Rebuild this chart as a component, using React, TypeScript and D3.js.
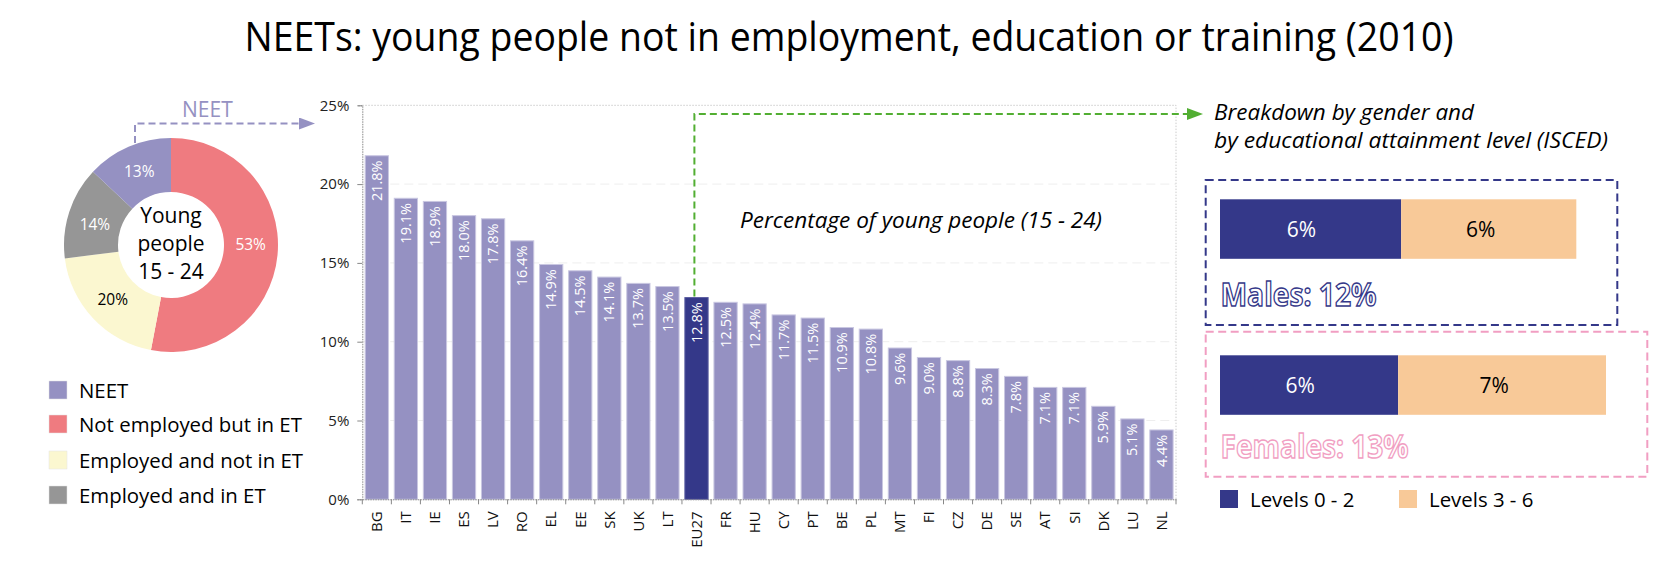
import { useEffect, useRef } from 'react';
import * as d3 from 'd3';

const FONT = '"Open Sans", sans-serif';

const countries = ['BG', 'IT', 'IE', 'ES', 'LV', 'RO', 'EL', 'EE', 'SK', 'UK', 'LT', 'EU27', 'FR', 'HU', 'CY', 'PT', 'BE', 'PL', 'MT', 'FI', 'CZ', 'DE', 'SE', 'AT', 'SI', 'DK', 'LU', 'NL'];
const neetValues = [21.8, 19.1, 18.9, 18.0, 17.8, 16.4, 14.9, 14.5, 14.1, 13.7, 13.5, 12.8, 12.5, 12.4, 11.7, 11.5, 10.9, 10.8, 9.6, 9.0, 8.8, 8.3, 7.8, 7.1, 7.1, 5.9, 5.1, 4.4];
const yTicks = [0, 5, 10, 15, 20, 25];

const pieLabels = ['Not employed but in ET', 'Employed and not in ET', 'Employed and in ET', 'NEET'];
const pieValues = [53, 20, 14, 13];
const pieColors = ['#ef7b80', '#fbf7d0', '#969696', '#9591c2'];
const pieTextColors = ['#fff', '#000', '#fff', '#fff'];
const legendOrder = ['NEET', 'Not employed but in ET', 'Employed and not in ET', 'Employed and in ET'];

// widths of the stacked bars, the printed labels are rounded
const genders = ['Males', 'Females'];
const lowLevels = [6.1, 6.0];
const highLevels = [5.9, 7.0];
const lowLabels = ['6%', '6%'];
const highLabels = ['6%', '7%'];
const genderTotals = ['Males: 12%', 'Females: 13%'];
const levelLabels = ['Levels 0 - 2', 'Levels 3 - 6'];

const PURPLE = '#9591c2';
const NAVY = '#343889';
const PEACH = '#f8c998';
const PINK = '#f19ec2';
const GREEN = '#52ae32';

export default function App() {
  const svgRef = useRef<SVGSVGElement>(null);

  useEffect(() => {
    if (!svgRef.current) return;
    const svg = d3.select(svgRef.current);
    svg.selectAll('*').remove();

    const label = (x: number, y: number, s: string, size: number, fill = '#000', anchor = 'start') =>
      svg.append('text')
        .attr('x', x)
        .attr('y', y)
        .attr('font-size', size)
        .attr('fill', fill)
        .attr('text-anchor', anchor)
        .text(s);

    const defs = svg.append('defs');
    const marker = (id: string, color: string) =>
      defs.append('marker')
        .attr('id', id)
        .attr('viewBox', '0 0 16 12')
        .attr('refX', 0)
        .attr('refY', 6)
        .attr('markerUnits', 'userSpaceOnUse')
        .attr('markerWidth', 16)
        .attr('markerHeight', 12)
        .attr('orient', 'auto')
        .append('path')
        .attr('d', 'M0,0L16,6L0,12Z')
        .attr('fill', color);
    marker('arrow-purple', PURPLE);
    marker('arrow-green', GREEN);

    // Title
    label(244.5, 51, 'NEETs: young people not in employment, education or training (2010)', 40)
      .attr('textLength', 1209)
      .attr('lengthAdjust', 'spacingAndGlyphs');

    // Donut
    const cx = 171;
    const cy = 245;
    const pie = d3.pie<number>().sort(null)(pieValues);
    const arc = d3.arc<d3.PieArcDatum<number>>().innerRadius(53).outerRadius(107);
    const donut = svg.append('g').attr('transform', `translate(${cx},${cy})`);
    donut.selectAll('path')
      .data(pie)
      .join('path')
      .attr('d', arc)
      .attr('fill', (_, i) => pieColors[i]);
    donut.selectAll('text')
      .data(pie)
      .join('text')
      .attr('transform', d => `translate(${arc.centroid(d)})`)
      .attr('dy', (_, i) => (i === 0 ? '-0.15em' : i === 2 ? '0.6em' : '0.35em'))
      .attr('text-anchor', 'middle')
      .attr('font-size', 15.5)
      .attr('fill', (_, i) => pieTextColors[i])
      .text(d => `${d.data}%`);
    ['Young', 'people', '15 - 24'].forEach((s, i) => {
      label(cx, 223 + i * 28, s, 21, '#000', 'middle');
    });

    // NEET arrow
    label(182, 117, 'NEET', 21, PURPLE);
    svg.append('path')
      .attr('d', 'M135,143V123.5H299')
      .attr('fill', 'none')
      .attr('stroke', PURPLE)
      .attr('stroke-width', 2)
      .attr('stroke-dasharray', '7,4')
      .attr('marker-end', 'url(#arrow-purple)');

    // Donut legend
    const legendY = [381, 415, 451, 486];
    legendOrder.forEach((s, i) => {
      svg.append('rect')
        .attr('x', 49)
        .attr('y', legendY[i])
        .attr('width', 18)
        .attr('height', 18)
        .attr('fill', pieColors[pieLabels.indexOf(s)])
        .attr('stroke', '#e4e4e4')
        .attr('stroke-width', 0.5);
      label(79, legendY[i] + 17, s, 20.4);
    });

    // Bar chart
    const x = d3.scaleBand<string>()
      .domain(countries)
      .range([362.3, 1176])
      .paddingInner(0.2)
      .paddingOuter(0.1);
    const y = d3.scaleLinear().domain([0, 25]).range([499.3, 105.3]);

    // Grid lines
    svg.append('g')
      .selectAll('line')
      .data(yTicks.slice(1, -1))
      .join('line')
      .attr('x1', 362.3)
      .attr('x2', 1176)
      .attr('y1', d => y(d))
      .attr('y2', d => y(d))
      .attr('stroke', '#eeeeee')
      .attr('stroke-dasharray', '9,5');
    svg.append('path')
      .attr('d', `M362.3,${y(25)}H1176V${y(0)}`)
      .attr('fill', 'none')
      .attr('stroke', '#cccccc')
      .attr('stroke-dasharray', '1.5,1.5');

    const yAxis = svg.append('g')
      .attr('transform', 'translate(362.3,0)')
      .call(d3.axisLeft(y).tickValues(yTicks).tickSize(5).tickFormat(d => `${d}%`));
    yAxis.select('.domain').attr('stroke', '#888888').attr('stroke-dasharray', '1.5,1');
    yAxis.selectAll('.tick line').attr('stroke', '#888888');
    yAxis.selectAll('text')
      .attr('font-family', FONT)
      .attr('font-size', 15)
      .attr('fill', '#222222')
      .attr('x', -13);

    svg.append('g')
      .selectAll('rect')
      .data(countries)
      .join('rect')
      .attr('x', d => x(d) as number)
      .attr('y', (_, i) => y(neetValues[i]))
      .attr('width', x.bandwidth())
      .attr('height', (_, i) => y(0) - y(neetValues[i]))
      .attr('fill', d => (d === 'EU27' ? NAVY : PURPLE))
      .attr('stroke', d => (d === 'EU27' ? '#5a5da0' : '#c9c7e1'))
      .attr('stroke-width', 1);

    svg.append('g')
      .selectAll('text')
      .data(countries)
      .join('text')
      .attr('transform', (d, i) => `translate(${(x(d) as number) + x.bandwidth() / 2},${y(neetValues[i]) + 4.7}) rotate(-90)`)
      .attr('dy', '0.35em')
      .attr('text-anchor', 'end')
      .attr('font-size', 14.5)
      .attr('fill', '#fff')
      .text((_, i) => `${neetValues[i].toFixed(1)}%`);

    const xAxis = svg.append('g')
      .attr('transform', `translate(0,${y(0)})`)
      .call(d3.axisBottom(x).tickSize(0));
    xAxis.select('.domain').attr('stroke', '#888888').attr('stroke-dasharray', '1.5,1');
    xAxis.selectAll('text')
      .attr('font-family', FONT)
      .attr('font-size', 15)
      .attr('fill', '#111111')
      .attr('text-anchor', 'end')
      .attr('transform', 'rotate(-90)')
      .attr('x', -12)
      .attr('y', 0)
      .attr('dy', '0.35em');
    // ticks sit between the bars
    xAxis.selectAll('.boundary')
      .data(d3.range(countries.length + 1))
      .join('line')
      .attr('class', 'boundary')
      .attr('x1', d => 362.3 + d * x.step())
      .attr('x2', d => 362.3 + d * x.step())
      .attr('y1', 0)
      .attr('y2', 5)
      .attr('stroke', '#888888');

    label(740, 228, 'Percentage of young people (15 - 24)', 21.5)
      .attr('font-style', 'italic')
      .attr('textLength', 362)
      .attr('lengthAdjust', 'spacingAndGlyphs');

    // Green arrow
    const euX = (x('EU27') as number) + x.bandwidth() * 0.41;
    svg.append('path')
      .attr('d', `M${euX.toFixed(1)},${y(12.8) - 1}V114H1187`)
      .attr('fill', 'none')
      .attr('stroke', GREEN)
      .attr('stroke-width', 2)
      .attr('stroke-dasharray', '7,4')
      .attr('marker-end', 'url(#arrow-green)');

    // Breakdown
    label(1214, 120, 'Breakdown by gender and', 21.5)
      .attr('font-style', 'italic')
      .attr('textLength', 260)
      .attr('lengthAdjust', 'spacingAndGlyphs');
    label(1214, 148, 'by educational attainment level (ISCED)', 21.5)
      .attr('font-style', 'italic')
      .attr('textLength', 394)
      .attr('lengthAdjust', 'spacingAndGlyphs');

    const bx = d3.scaleLinear().domain([0, 13]).range([1220, 1606]);
    const boxTop = [180, 331.7];
    const barTop = [199.3, 355.3];
    const boxRight = [1617.3, 1647.3];
    const boxColor = [NAVY, PINK];
    const totalWidth = [156, 188];

    genders.forEach((_, i) => {
      const top = boxTop[i];
      svg.append('rect')
        .attr('x', 1205.7)
        .attr('y', top)
        .attr('width', boxRight[i] - 1205.7)
        .attr('height', 145)
        .attr('fill', 'none')
        .attr('stroke', boxColor[i])
        .attr('stroke-width', 2)
        .attr('stroke-dasharray', '8,4.5');

      const barY = barTop[i];
      svg.append('rect')
        .attr('x', bx(0))
        .attr('y', barY)
        .attr('width', bx(lowLevels[i]) - bx(0))
        .attr('height', 59.5)
        .attr('fill', NAVY);
      svg.append('rect')
        .attr('x', bx(lowLevels[i]))
        .attr('y', barY)
        .attr('width', bx(lowLevels[i] + highLevels[i]) - bx(lowLevels[i]))
        .attr('height', 59.5)
        .attr('fill', PEACH);
      label(bx(lowLevels[i] / 2) - 9, barY + 30, lowLabels[i], 21, '#fff', 'middle')
        .attr('dy', '0.35em');
      label(bx(lowLevels[i] + highLevels[i] / 2) - 8, barY + 30, highLabels[i], 21, '#000', 'middle')
        .attr('dy', '0.35em');

      label(1220.5, top + 126, genderTotals[i], 32, '#fff')
        .attr('font-weight', 700)
        .attr('stroke', boxColor[i])
        .attr('stroke-width', 1.4)
        .attr('textLength', totalWidth[i])
        .attr('lengthAdjust', 'spacingAndGlyphs');
    });

    // Levels legend
    [NAVY, PEACH].forEach((color, i) => {
      const lx = i === 0 ? 1220 : 1399;
      svg.append('rect')
        .attr('x', lx)
        .attr('y', 490)
        .attr('width', 18)
        .attr('height', 18)
        .attr('fill', color);
      label(lx + 30, 507, levelLabels[i], 20.4);
    });
  }, []);

  return (
    <svg
      ref={svgRef}
      width={1653}
      height={567}
      style={{ position: 'absolute', left: 0, top: 0, background: '#fff', fontFamily: FONT }}
    />
  );
}
